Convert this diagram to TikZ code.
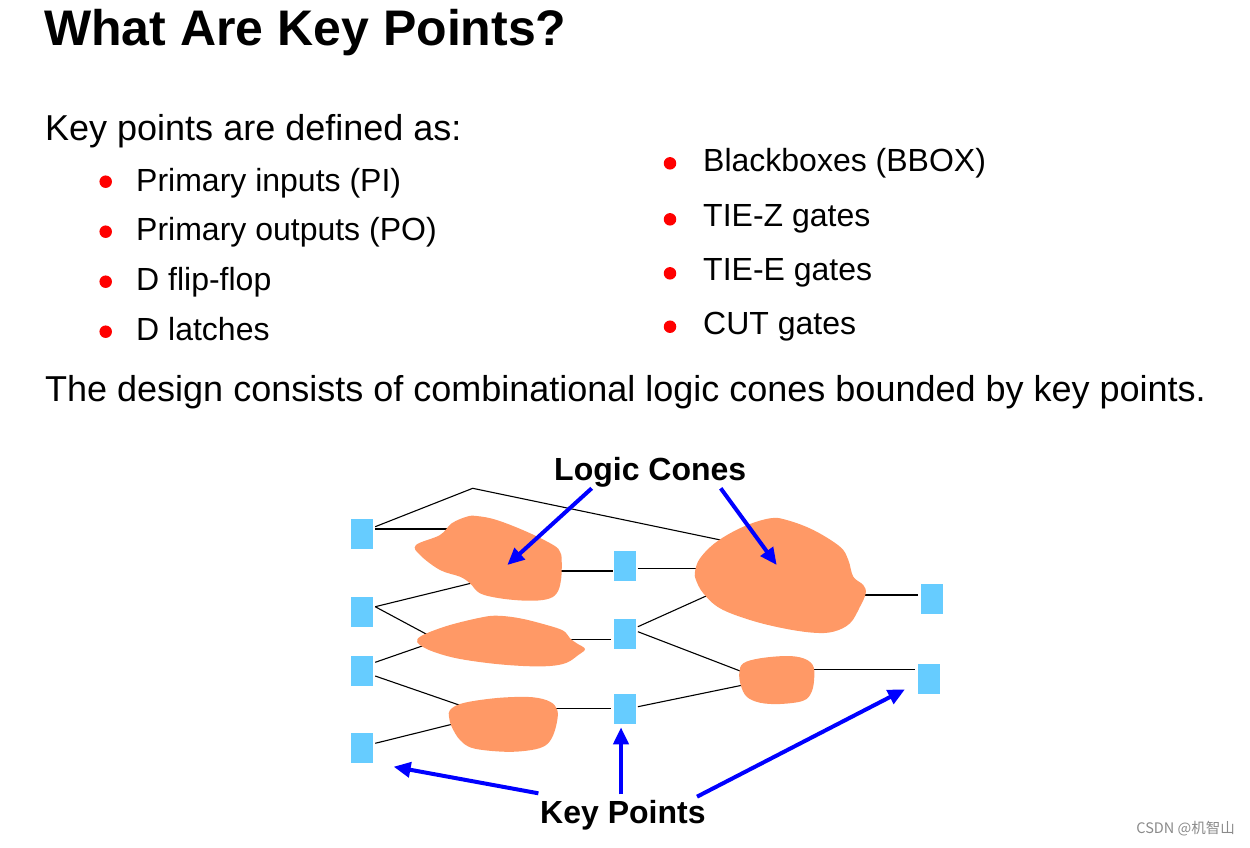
\documentclass[tikz,border=0pt]{standalone}
\usepackage{fontspec}
\setmainfont{Liberation Sans}
\newfontfamily\cjk{Noto Sans CJK SC}
\usetikzlibrary{arrows.meta,calc}
\definecolor{keyc}{HTML}{66CCFF}
\definecolor{blobc}{HTML}{FF9966}
\definecolor{arrc}{HTML}{0000FF}
\definecolor{dotc}{HTML}{FF0000}
\definecolor{wmc}{HTML}{8A8A8A}
\tikzset{
  keypt/.style={fill=keyc,draw=none,minimum width=22pt,minimum height=30pt,inner sep=0pt},
  wire/.style={draw=black,line width=1.1pt},
  blob/.style={fill=blobc,draw=none},
  bluearrow/.style={draw=arrc,line width=4pt,-{Triangle[length=17pt,width=15pt]}},
  heading/.style={anchor=base west,inner sep=0pt,font=\fontsize{36}{43}\selectfont},
  item/.style={anchor=base west,inner sep=0pt,font=\fontsize{32}{38}\selectfont},
  label/.style={anchor=base west,inner sep=0pt,font=\fontsize{32}{38}\selectfont\bfseries},
  bulletdot/.style={fill=dotc,draw=none,circle,minimum size=12.5pt,inner sep=0pt}
}
\begin{document}
\begin{tikzpicture}[x=1pt,y=-1pt]
\useasboundingbox (0,0) rectangle (1250,847);
% title and text
\node[anchor=base west,inner sep=0pt,font=\fontsize{50}{60}\selectfont\bfseries] (title) at (44,45) {What Are Key Points?};
\node[heading] (intro) at (45,140) {Key points are defined as:};
\node[bulletdot] (d1) at (105.7,181.7) {};
\node[bulletdot] (d2) at (105.7,231.7) {};
\node[bulletdot] (d3) at (105.7,281.7) {};
\node[bulletdot] (d4) at (105.7,331.7) {};
\node[item] (i1) at (136,191.7) {Primary inputs (PI)};
\node[item] (i2) at (136,240.5) {Primary outputs (PO)};
\node[item] (i3) at (136,290.5) {D flip-flop};
\node[item] (i4) at (136,340) {D latches};
\node[bulletdot] (e1) at (670,163.3) {};
\node[bulletdot] (e2) at (670,219.3) {};
\node[bulletdot] (e3) at (670,273.3) {};
\node[bulletdot] (e4) at (670,326.7) {};
\node[item] (j1) at (703,171.7) {Blackboxes (BBOX)};
\node[item] (j2) at (703,226.7) {TIE-Z gates};
\node[item] (j3) at (703,280.5) {TIE-E gates};
\node[item] (j4) at (703,334) {CUT gates};
\node[heading] (design) at (45,401.7) {The design consists of combinational logic cones bounded by key points.};
% key points
\node[keypt] (k1) at (362,534) {};
\node[keypt] (k2) at (362,612) {};
\node[keypt] (k3) at (362,671) {};
\node[keypt] (k4) at (362,748) {};
\node[keypt] (m1) at (624.5,566) {};
\node[keypt] (m2) at (624.5,633.7) {};
\node[keypt] (m3) at (624.5,709) {};
\node[keypt] (r1) at (931.5,599) {};
\node[keypt] (r2) at (929,678.5) {};
% wire coordinates
\coordinate (top) at (472.7,488.3);
\coordinate (bigin) at (735,543);
\coordinate (c1a) at (460,529);
\coordinate (c1b) at (472,583);
\coordinate (c1o) at (558,571);
\coordinate (c2a) at (428,635);
\coordinate (c2b) at (425,645);
\coordinate (c2o) at (565,639.3);
\coordinate (c3a) at (462,706);
\coordinate (c3b) at (455,723.5);
\coordinate (c3o) at (553,708.7);
\coordinate (bga) at (705,568.7);
\coordinate (bgb) at (715,592);
\coordinate (bgo) at (858,595);
\coordinate (c4a) at (748,674);
\coordinate (c4b) at (748,684);
\coordinate (c4o) at (808,669.7);
% wires
\draw[wire] ($(k1.east)+(2,-7.3)$) -- (top) -- (bigin);
\draw[wire] ($(k1.east)+(2,-5)$) -- (c1a);
\draw[wire] (c1o) -- ($(m1.west)+(0,5)$);
\draw[wire] ($(m1.east)+(2,2.7)$) -- (bga);
\draw[wire] ($(k2.east)+(2,-5.3)$) -- (c1b);
\draw[wire] ($(k2.east)+(2,-5.3)$) -- (c2a);
\draw[wire] (c2o) -- ($(m2.west)+(-2.8,5.6)$);
\draw[wire] ($(k3.east)+(2,-8.7)$) -- (c2b);
\draw[wire] ($(k3.east)+(2,5)$) -- (c3a);
\draw[wire] ($(k4.east)+(2,-4.7)$) -- (c3b);
\draw[wire] (c3o) -- ($(m3.west)+(-2.8,-0.3)$);
\draw[wire] ($(m2.east)+(2.2,-7)$) -- (bgb);
\draw[wire] ($(m2.east)+(2.2,-2)$) -- (c4a);
\draw[wire] ($(m3.east)+(2.2,-2.3)$) -- (c4b);
\draw[wire] (bgo) -- ($(r1.west)+(-2.2,-4)$);
\draw[wire] (c4o) -- ($(r2.west)+(-3,-8.8)$);
% logic cones
\fill[blob] plot[smooth cycle,tension=0.6] coordinates {
 (416,545) (440,535) (451.7,523.3) (466.7,516.7) (476.7,516) (496.7,520)
 (526.7,531.7) (553.3,545) (560,551.7) (561.7,560) (561,580) (556.7,593.3)
 (546.7,599.3) (526.7,600.7) (500,598.3) (480,593.3) (470,583.3) (460,576.7)
 (440,570) (420,555)};
\fill[blob] plot[smooth cycle,tension=0.6] coordinates {
 (417.3,639.3) (426.7,633.3) (450,625) (480,617.7) (496.7,615.7) (520,618.3)
 (546.7,625) (563.3,630.7) (570,638.3) (576.7,643.3) (585,649) (578.3,655)
 (566.7,662.7) (550,666) (523.3,666) (490,663.3) (456.7,658.3) (433.3,651.7)
 (420,645)};
\fill[blob] plot[smooth cycle,tension=0.6] coordinates {
 (450,710) (460,704) (480,700) (506.7,697.3) (533.3,697.3) (550,701.7)
 (557.3,710) (556.7,723.3) (551.7,738.3) (543.3,746.7) (526.7,750.7)
 (503.3,751.7) (473.3,748.3) (460,740) (451.7,726.7) (449,716.7)};
\fill[blob] plot[smooth cycle,tension=0.6] coordinates {
 (739.3,672.7) (743.3,663.3) (760,658.3) (786.7,656) (803.3,658.3)
 (812.7,665) (814.3,676.7) (811.7,691.7) (803.3,700.7) (780,704)
 (760,702.7) (746.7,696.7) (740.7,685)};
\fill[blob] plot[smooth cycle,tension=0.6] coordinates {
 (695,571.7) (700,558.3) (716.7,541.7) (743.3,526.7) (770,518.3) (786.7,520)
 (813.3,530) (840,546.7) (848.3,560) (853.3,576.7) (863.3,585) (865.7,593.3)
 (860,606.7) (850,623.3) (833.3,631.7) (813.3,632.7) (783.3,628.3) (750,620)
 (720,608.3) (703.3,593.3) (696,580)};
% labels and arrows
\node[label] (lc) at (554,480.7) {Logic Cones};
\node[label] (kp) at (540,823) {Key Points};
\coordinate (lcA) at (591.7,488.3);
\coordinate (lcB) at (720.7,488.3);
\coordinate (t1) at (507.3,565);
\coordinate (t2) at (776.7,565);
\draw[bluearrow] (lcA) -- (t1);
\draw[bluearrow] (lcB) -- (t2);
\coordinate (kpA) at (538.4,793.3);
\coordinate (kpB) at (621,794.3);
\coordinate (kpC) at (697,796.7);
\coordinate (t3) at (393.6,766.7);
\coordinate (t4) at (621,727.3);
\coordinate (t5) at (905,689.3);
\draw[bluearrow] (kpA) -- (t3);
\draw[bluearrow] (kpB) -- (t4);
\draw[bluearrow] (kpC) -- (t5);
% watermark
\node[anchor=east,inner sep=0pt,text=wmc,font=\cjk\fontsize{14.5}{17}\selectfont] (wm) at (1235,829) {CSDN @机智山};
\end{tikzpicture}
\end{document}
